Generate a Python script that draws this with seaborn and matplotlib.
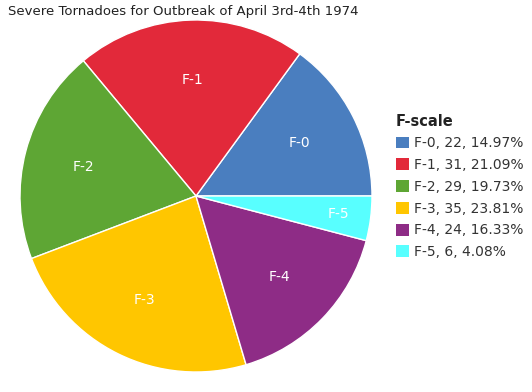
import matplotlib
matplotlib.use("Agg")
import matplotlib.pyplot as plt
import seaborn as sns
from matplotlib.patches import Patch

# data
scales = ["F-0", "F-1", "F-2", "F-3", "F-4", "F-5"]
counts = [22, 31, 29, 35, 24, 6]
percents = ["14.97%", "21.09%", "19.73%", "23.81%", "16.33%", "4.08%"]
colors = ["#4a7ebf", "#e2293a", "#5ea634", "#ffc600", "#8e2c86", "#58ffff"]

sns.set_style("white")
plt.rcParams["font.family"] = ["DejaVu Sans"]

fig = plt.figure(figsize=(5.32, 3.92), dpi=100)
ax = fig.add_axes([20 / 532, 20 / 392, 352 / 532, 352 / 392])

wedges, texts = ax.pie(
    counts,
    labels=scales,
    colors=colors,
    startangle=0,
    counterclock=True,
    labeldistance=0.66,
    wedgeprops=dict(edgecolor="white", linewidth=1),
    textprops=dict(color="white", fontsize=10, ha="center", va="center"),
)
ax.set_aspect("equal")
ax.set_xlim(-1, 1)
ax.set_ylim(-1, 1)

# small slice label sits further out
x, y = texts[5].get_position()
texts[5].set_position((x * 1.24, y * 1.24))

fig.text(8 / 532, 1 - 11 / 392, "Severe Tornadoes for Outbreak of April 3rd-4th 1974",
         fontsize=9.5, color="#222222", va="center", ha="left")

handles = [Patch(facecolor=c, edgecolor="none") for c in colors]
labels = [f"{s}, {n}, {p}" for s, n, p in zip(scales, counts, percents)]
leg = fig.legend(handles, labels, title="F-scale", loc="upper left",
                 bbox_to_anchor=(383 / 532, 1 - 101 / 392), frameon=False,
                 fontsize=10, title_fontsize=10.5, handlelength=0.95, handleheight=0.95,
                 handletextpad=0.4, labelspacing=0.56, alignment="left")
leg.get_title().set_fontweight("bold")
leg.get_title().set_color("#222222")
for t in leg.get_texts():
    t.set_color("#333333")

fig.savefig("out.png", dpi=100)
